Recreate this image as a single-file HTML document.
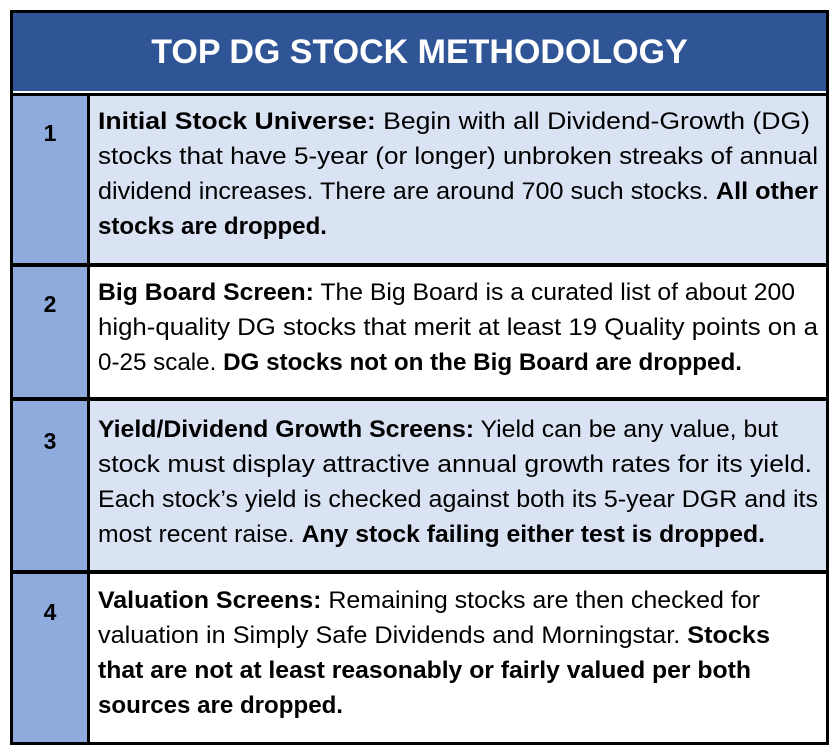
<!DOCTYPE html>
<html><head><meta charset="utf-8"><style>
body{margin:0;width:839px;height:755px;background:#fff;position:relative;font-family:"Liberation Sans",sans-serif;overflow:hidden}
.box{position:absolute;left:10px;top:10px;width:813px;height:729px;border:3px solid #000;background:#000}
.hdr{position:absolute;left:13px;top:13px;width:813px;height:78px;background:#2F5597;color:#fff;font-weight:bold;font-size:34px;text-align:center;line-height:78px;border-bottom:2px solid #fff}
.num{position:absolute;left:13px;width:74px;background:#8FAADC;font-weight:bold;font-size:23px;text-align:center}
.txt{position:absolute;left:90px;width:736px;font-size:24px;color:#000;overflow:hidden}
.txt div{position:absolute;left:8px;white-space:nowrap;line-height:35px;transform-origin:0 50%}
.l{background:#DAE3F3}.w{background:#fff}
</style></head><body>
<div class="box"></div>
<div class="hdr">TOP DG STOCK METHODOLOGY</div>

<div class="num" style="top:96px;height:167px"><span style="position:absolute;top:24px;left:0;right:0">1</span></div>
<div class="txt l" style="top:96px;height:167px">
<div data-end="810" style="top:8px"><b>Initial Stock Universe:</b> Begin with all Dividend-Growth (DG)</div>
<div data-end="818" style="top:43px">stocks that have 5-year (or longer) unbroken streaks of annual</div>
<div data-end="818" style="top:78px">dividend increases. There are around 700 such stocks. <b>All other</b></div>
<div data-end="327" style="top:113px"><b>stocks are dropped.</b></div>
</div>

<div class="num" style="top:267px;height:130px"><span style="position:absolute;top:24px;left:0;right:0">2</span></div>
<div class="txt w" style="top:267px;height:130px">
<div data-end="795" style="top:8px"><b>Big Board Screen:</b> The Big Board is a curated list of about 200</div>
<div data-end="818" style="top:43px">high-quality DG stocks that merit at least 19 Quality points on a</div>
<div data-end="742" style="top:78px">0-25 scale. <b>DG stocks not on the Big Board are dropped.</b></div>
</div>

<div class="num" style="top:401px;height:169px"><span style="position:absolute;top:27px;left:0;right:0">3</span></div>
<div class="txt l" style="top:401px;height:169px">
<div data-end="778" style="top:11px"><b>Yield/Dividend Growth Screens:</b> Yield can be any value, but</div>
<div data-end="812" style="top:46px">stock must display attractive annual growth rates for its yield.</div>
<div data-end="818" style="top:81px">Each stock’s yield is checked against both its 5-year DGR and its</div>
<div data-end="765" style="top:116px">most recent raise. <b>Any stock failing either test is dropped.</b></div>
</div>

<div class="num" style="top:574px;height:168px"><span style="position:absolute;top:25px;left:0;right:0">4</span></div>
<div class="txt w" style="top:574px;height:168px">
<div data-end="760" style="top:9px"><b>Valuation Screens:</b> Remaining stocks are then checked for</div>
<div data-end="770" style="top:44px">valuation in Simply Safe Dividends and Morningstar. <b>Stocks</b></div>
<div data-end="751" style="top:79px"><b>that are not at least reasonably or fairly valued per both</b></div>
<div data-end="343" style="top:114px"><b>sources are dropped.</b></div>
</div>
<script>
document.querySelectorAll('.txt div').forEach(function(d){
  var w=d.getBoundingClientRect().width;
  var t=(+d.getAttribute('data-end'))-98;
  d.style.transform='scaleX('+(t/w)+')';
});
</script>
</body></html>
